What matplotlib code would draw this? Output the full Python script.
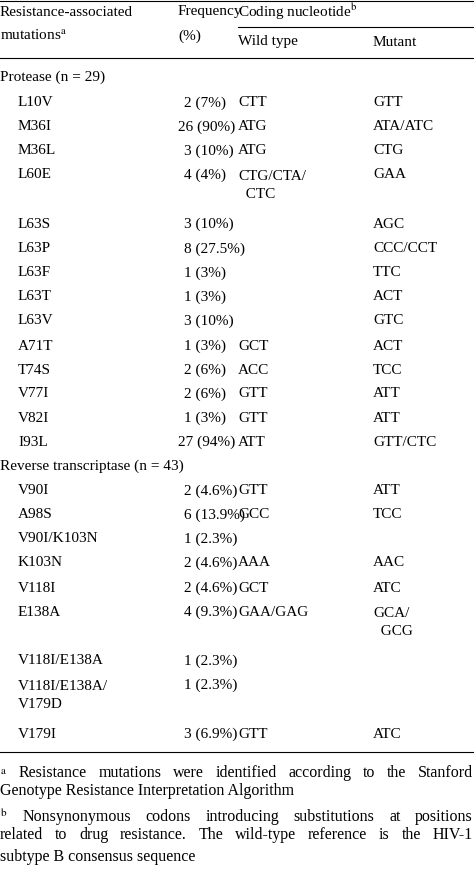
import matplotlib.pyplot as plt

plt.rcParams['font.family'] = ['Liberation Serif', 'DejaVu Serif']
plt.rcParams['mathtext.fontset'] = 'stix'

W, H = 474, 876

# Table data
protease_mut = ["L10V", "M36I", "M36L", "L60E", "L63S", "L63P", "L63F", "L63T", "L63V",
                "A71T", "T74S", "V77I", "V82I", "I93L"]
protease_freq = ["2 (7%)", "26 (90%)", "3 (10%)", "4 (4%)", "3 (10%)", "8 (27.5%)", "1 (3%)",
                 "1 (3%)", "3 (10%)", "1 (3%)", "2 (6%)", "2 (6%)", "1 (3%)", "27 (94%)"]
protease_wt = ["CTT", "ATG", "ATG", "CTG/CTA/\n  CTC", "", "", "", "", "",
               "GCT", "ACC", "GTT", "GTT", "ATT"]
protease_mt = ["GTT", "ATA/ATC", "CTG", "GAA", "AGC", "CCC/CCT", "TTC", "ACT", "GTC",
               "ACT", "TCC", "ATT", "ATT", "GTT/CTC"]
protease_y = [103, 127, 151, 175, 224, 249, 273, 297, 321, 346, 370, 394, 418, 442]

rt_mut = ["V90I", "A98S", "V90I/K103N", "K103N", "V118I", "E138A", "V118I/E138A",
          "V118I/E138A/\nV179D", "V179I"]
rt_freq = ["2 (4.6%)", "6 (13.9%)", "1 (2.3%)", "2 (4.6%)", "2 (4.6%)", "4 (9.3%)",
           "1 (2.3%)", "1 (2.3%)", "3 (6.9%)"]
rt_wt = ["GTT", "GCC", "", "AAA", "GCT", "GAA/GAG", "", "", "GTT"]
rt_mt = ["ATT", "TCC", "", "AAC", "ATC", "GCA/\n  GCG", "", "", "ATC"]
rt_y = [491, 515, 539, 563, 588, 612, 661, 685, 734]

# (y, text, justified)
footnotes = [
    (773, r"$^{\mathrm{a}}$ Resistance mutations were identified according to the Stanford", True),
    (791, "Genotype Resistance Interpretation Algorithm", False),
    (817, r"$^{\mathrm{b}}$ Nonsynonymous codons introducing substitutions at positions", True),
    (835, "related to drug resistance. The wild-type reference is the HIV-1", True),
    (857, "subtype B consensus sequence", False),
]

fig = plt.figure(figsize=(W / 100, H / 100), dpi=100)
FS = 11


def txt(x, y, s, size=FS, **kw):
    return fig.text(x / W, 1 - y / H, s, fontsize=size, va='center', ha='left',
                    linespacing=1.5, **kw)


def multi_y(y, s):
    # shift multi-line cells so the first line sits on the row
    return y + 10.5 * s.count("\n")


def hline(y, x0=0, x1=W):
    fig.add_artist(plt.Line2D([x0 / W, x1 / W], [1 - y / H, 1 - y / H], color='black', lw=0.8))


hline(1)
txt(0, 12, "Resistance-associated")
txt(0, 36, r"mutations$^{\mathrm{a}}$")
txt(178, 12, "Frequency")
txt(178, 36, "(%)")
txt(238, 12, r"Coding nucleotide$^{\mathrm{b}}$")
hline(27, 238, W)
txt(238, 42, "Wild type")
txt(373, 42, "Mutant")
hline(58)


def rows(muts, freqs, wts, mts, ys):
    for m, f, w, t, y in zip(muts, freqs, wts, mts, ys):
        txt(18, multi_y(y, m), m)
        fx = 178 if len(f.split(" ")[0]) > 1 else 184
        txt(fx, y, f)
        if w:
            txt(238, multi_y(y, w), w)
        if t:
            txt(373, multi_y(y, t), t)


txt(0, 77, "Protease (n = 29)")
rows(protease_mut, protease_freq, protease_wt, protease_mt, protease_y)
txt(0, 466, "Reverse transcriptase (n = 43)")
rows(rt_mut, rt_freq, rt_wt, rt_mt, rt_y)
hline(752)

# footnotes, justified to full width where the reference is
renderer = fig.canvas.get_renderer()
FN = 11.5
for y, s, just in footnotes:
    if not just:
        txt(0, y, s, size=FN)
        continue
    words = s.split(" ")
    arts = [txt(0, y, wd, size=FN) for wd in words]
    widths = [a.get_window_extent(renderer).width for a in arts]
    gap = (W - 1 - sum(widths)) / (len(words) - 1)
    x = 0
    for a, wd in zip(arts, widths):
        a.set_x(x / W)
        x += wd + gap

fig.savefig("out.png", dpi=100)
